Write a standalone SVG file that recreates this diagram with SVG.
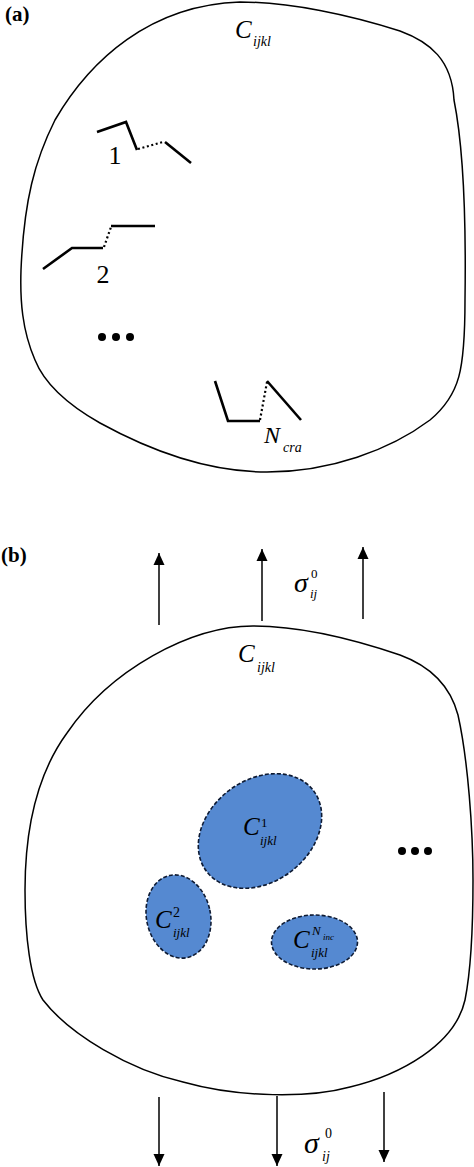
<svg xmlns="http://www.w3.org/2000/svg" width="474" height="1167" viewBox="0 0 474 1167">
<style>
.body{fill:none;stroke:#000;stroke-width:1.5}
.crack{fill:none;stroke:#000;stroke-width:2.6;stroke-linejoin:miter}
.dot{fill:none;stroke:#000;stroke-width:2.2;stroke-dasharray:2 2.6}
.inc{fill:#5589d1;stroke:#0d1a33;stroke-width:1.6;stroke-dasharray:4 2}
.m{font-family:"Liberation Serif","Times New Roman",serif;font-style:italic;fill:#000}
.n{font-family:"Liberation Serif","Times New Roman",serif;fill:#000}
.lab{font-family:"Liberation Serif","Times New Roman",serif;font-weight:bold;font-size:21px;fill:#000}
.arr{stroke:#000;stroke-width:1.5;fill:none}
</style>
<defs>
<marker id="ah" markerWidth="12" markerHeight="12" refX="12" refY="6" orient="auto" markerUnits="userSpaceOnUse">
<path d="M0,0.5 L12,6 L0,11.5 Z" fill="#000"/>
</marker>
</defs>
<rect width="474" height="1167" fill="#fff"/>

<g id="panel-a">
<text class="lab" x="5" y="21">(a)</text>
<g id="body-a">
<path class="body" d="M240,2 C290,2 350,15 400,31 C430,42 452,60 454,100 C464,150 466,230 465,300 C465,370 460,395 430,420 C390,450 330,472 267,472 C200,472 140,445 100,423 C70,406 45,385 35,360 C22,330 20,300 21,270 C24,200 35,160 55,120 C90,60 150,5 240,2 Z"/>
<text class="m" x="235" y="38" font-size="25">C</text>
<text class="m" x="253" y="46" font-size="14">ijkl</text>
</g>
<g id="crack-1">
<polyline class="crack" points="97,132 126,122 137,150"/>
<line class="dot" x1="138" y1="149" x2="163" y2="142"/>
<line class="crack" x1="165" y1="142" x2="191" y2="163"/>
<text class="n" x="115" y="164" font-size="26" text-anchor="middle">1</text>
</g>
<g id="crack-2">
<polyline class="crack" points="43,269 72,248 103,248"/>
<line class="dot" x1="104" y1="247" x2="111" y2="227"/>
<line class="crack" x1="111" y1="226" x2="155" y2="226"/>
<text class="n" x="103" y="283" font-size="26" text-anchor="middle">2</text>
</g>
<g id="dots-a">
<circle cx="102" cy="337" r="4"/>
<circle cx="116" cy="337" r="4"/>
<circle cx="130" cy="337" r="4"/>
</g>
<g id="crack-n">
<polyline class="crack" points="215,381 228,421 260,421"/>
<line class="dot" x1="260" y1="420" x2="267" y2="382"/>
<line class="crack" x1="267" y1="381" x2="301" y2="420"/>
<text class="m" x="264" y="443" font-size="24">N</text>
<text class="m" x="283" y="452" font-size="14">cra</text>
</g>
</g>

<g id="panel-b">
<text class="lab" x="1" y="562">(b)</text>
<g id="body-b">
<path class="body" d="M253,626 C300,626 350,638 400,655 C430,666 450,685 458,715 C468,760 473,830 473,880 C473,940 470,975 465,1000 C455,1045 400,1075 350,1087 C310,1098 240,1098 183,1082 C130,1070 70,1035 43,1000 C30,980 25,935 25,890 C25,820 40,770 67,733 C110,670 190,626 253,626 Z"/>
<text class="m" x="238" y="662" font-size="25">C</text>
<text class="m" x="257" y="672" font-size="14">ijkl</text>
</g>
<g id="inclusion-1">
<ellipse class="inc" cx="260" cy="831" rx="67" ry="51" transform="rotate(-37 260 831)"/>
<text class="m" x="243" y="835" font-size="25">C</text>
<text class="n" x="261" y="827" font-size="13">1</text>
<text class="m" x="260" y="845" font-size="13">ijkl</text>
</g>
<g id="inclusion-2">
<ellipse class="inc" cx="178.5" cy="916.5" rx="32" ry="42" transform="rotate(-12 178.5 916.5)"/>
<text class="m" x="155" y="928" font-size="25">C</text>
<text class="n" x="173" y="917" font-size="14">2</text>
<text class="m" x="173" y="937" font-size="13">ijkl</text>
</g>
<g id="inclusion-n">
<ellipse class="inc" cx="314.5" cy="942" rx="43" ry="27"/>
<text class="m" x="293" y="948" font-size="25">C</text>
<text class="m" x="312" y="935" font-size="13">N</text>
<text class="m" x="323" y="940" font-size="9">inc</text>
<text class="m" x="311" y="957" font-size="13">ijkl</text>
</g>
<g id="dots-b">
<circle cx="402" cy="851" r="4"/>
<circle cx="415" cy="851" r="4"/>
<circle cx="428" cy="851" r="4"/>
</g>
<g id="sigma-top">
<text class="m" x="294" y="592" font-size="28">σ</text>
<text class="n" x="311" y="578" font-size="13">0</text>
<text class="m" x="310" y="598" font-size="13">ij</text>
</g>
<g id="sigma-bottom">
<text class="m" x="304" y="1153" font-size="30">σ</text>
<text class="n" x="325" y="1138" font-size="14">0</text>
<text class="m" x="322" y="1161" font-size="14">ij</text>
</g>
</g>

<g id="connectors">
<line class="arr" x1="159" y1="625" x2="159" y2="553" marker-end="url(#ah)"/>
<line class="arr" x1="262" y1="621" x2="262" y2="549" marker-end="url(#ah)"/>
<line class="arr" x1="363" y1="619" x2="363" y2="547" marker-end="url(#ah)"/>
<line class="arr" x1="159" y1="1097" x2="159" y2="1166" marker-end="url(#ah)"/>
<line class="arr" x1="277" y1="1096" x2="277" y2="1166" marker-end="url(#ah)"/>
<line class="arr" x1="384" y1="1092" x2="384" y2="1162" marker-end="url(#ah)"/>
</g>
</svg>
